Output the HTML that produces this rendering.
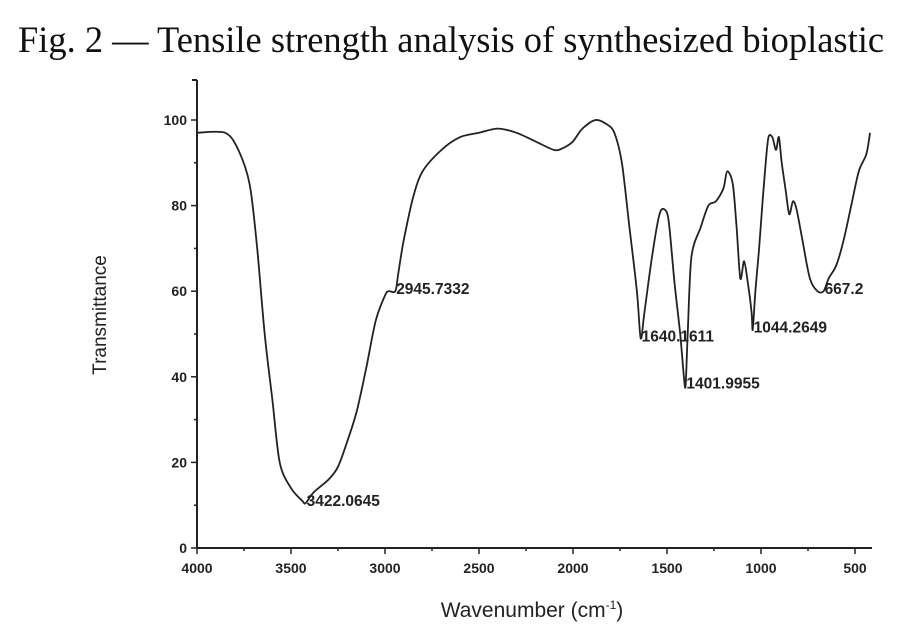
<!DOCTYPE html>
<html><head><meta charset="utf-8"><style>
html,body{margin:0;padding:0;background:#fff;}
svg{display:block;}
text{font-family:"Liberation Sans",Arial,sans-serif;fill:#222;}
</style></head><body>
<svg id="chart" width="904" height="633" viewBox="0 0 904 633">
<text x="451" y="52" text-anchor="middle" textLength="866" lengthAdjust="spacingAndGlyphs" style="font-family:'Liberation Serif',serif;font-size:37px;fill:#111">Fig. 2 — Tensile strength analysis of synthesized bioplastic</text>
<g id="axes"></g>
<path id="curve" fill="none" stroke="#222" stroke-width="1.8"/>
<g id="labels"></g>
<text transform="translate(106,315) rotate(-90)" text-anchor="middle" font-size="19">Transmittance</text>
<text x="532" y="617" text-anchor="middle" font-size="21">Wavenumber (cm<tspan dy="-8" font-size="12">-1</tspan><tspan dy="8">)</tspan></text>
</svg>
<script>
const wavenumbers=[4000,3850,3780,3720,3680,3640,3600,3560,3500,3440,3422,3380,3300,3250,3200,3150,3100,3050,3000,2980,2945,2930,2900,2850,2800,2700,2600,2500,2400,2300,2200,2100,2050,2000,1950,1880,1820,1780,1740,1700,1660,1640,1620,1580,1540,1510,1490,1460,1430,1410,1401,1390,1370,1320,1280,1240,1200,1180,1150,1130,1110,1090,1070,1050,1044,1030,1010,990,975,960,940,920,905,890,870,850,830,810,780,740,700,667,640,600,560,520,480,440,420];
const transmittance=[97,97,93,85,70,50,35,20,14,11,10.5,13,16,19,25,32,42,53,59,60,60,64,72,82,88,93,96,97,98,97,95,93,93.5,95,98,100,99,97,90,75,60,49,55,68,78,79,76,62,50,40,38,50,68,75,80,81,84,88,85,75,63,67,62,55,51,60,70,82,90,96,96,93,96,90,84,78,81,79,72,63,60,60,63,66,72,80,88,92,97];
const xTicks=[4000,3500,3000,2500,2000,1500,1000,500];
const yTicks=[0,20,40,60,80,100];
const peakWn=[3422.0645,2945.7332,1640.1611,1401.9955,1044.2649,667.2];
const peakT=[10.5,60,49,38,51,60];
const peakText=["3422.0645","2945.7332","1640.1611","1401.9955","1044.2649","667.2"];

const X0=197,X1=855,Y0=548,Y1=120;
const xs=w=>X0+(4000-w)*(X1-X0)/3500;
const ys=t=>Y0-t*(Y0-Y1)/100;
const NS="http://www.w3.org/2000/svg";
function mk(tag,attrs,parent){const e=document.createElementNS(NS,tag);for(const k in attrs)e.setAttribute(k,attrs[k]);parent.appendChild(e);return e;}
const axes=document.getElementById('axes');
let yl=mk('line',{x1:X0,y1:80,x2:X0,y2:Y0,stroke:'#222','stroke-width':2},axes);


let xl=mk('line',{x1:X0,y1:Y0,x2:872,y2:Y0,stroke:'#222','stroke-width':2},axes);


mk('line',{x1:X0-5,y1:80,x2:X0,y2:80,stroke:'#222','stroke-width':2},axes);
for(let t=0;t<=100;t+=10){const y=ys(t);mk('line',{x1:X0-(t%20?3:6),y1:y,x2:X0,y2:y,stroke:'#222','stroke-width':1.5},axes);}
yTicks.forEach(t=>{const e=mk('text',{x:X0-10,y:ys(t)+5,'text-anchor':'end','font-size':14,'font-weight':'bold'},axes);e.textContent=t;

});
for(let w=4000;w>=500;w-=250){const x=xs(w);mk('line',{x1:x,y1:Y0,x2:x,y2:Y0+(w%500?3:6),stroke:'#222','stroke-width':1.5},axes);}
xTicks.forEach(w=>{const e=mk('text',{x:xs(w),y:Y0+25,'text-anchor':'middle','font-size':14,'font-weight':'bold'},axes);e.textContent=w;

});
const P=wavenumbers.map((w,i)=>[xs(w),ys(transmittance[i])]);
let d='M'+P[0][0].toFixed(1)+','+P[0][1].toFixed(1);
for(let i=0;i<P.length-1;i++){const p0=P[Math.max(0,i-1)],p1=P[i],p2=P[i+1],p3=P[Math.min(P.length-1,i+2)];
const k=0.15;
d+='C'+(p1[0]+(p2[0]-p0[0])*k).toFixed(1)+','+(p1[1]+(p2[1]-p0[1])*k).toFixed(1)+' '+(p2[0]-(p3[0]-p1[0])*k).toFixed(1)+','+(p2[1]-(p3[1]-p1[1])*k).toFixed(1)+' '+p2[0].toFixed(1)+','+p2[1].toFixed(1);}
document.getElementById('curve').setAttribute('d',d);
const lg=document.getElementById('labels');
peakWn.forEach((w,i)=>{const e=mk('text',{x:xs(w)+1,y:ys(peakT[i])+3,'font-size':15.5,'font-weight':'bold','fill':'#333'},lg);e.textContent=peakText[i];

});
</script>
</body></html>
